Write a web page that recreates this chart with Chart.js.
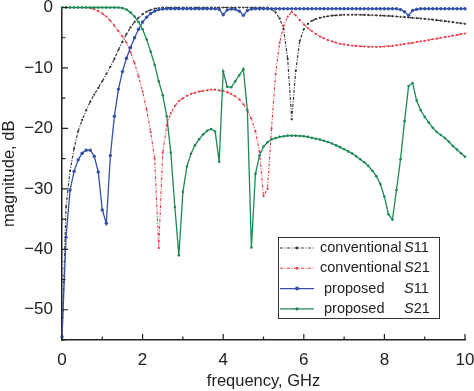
<!DOCTYPE html>
<html>
<head>
<meta charset="utf-8">
<script src="https://cdn.jsdelivr.net/npm/chart.js@4.4.0/dist/chart.umd.min.js"></script>
<style>
  html, body { margin: 0; padding: 0; background: #fff; }
</style>
</head>
<body>
<canvas id="grafico" width="474" height="391"></canvas>
<script>
// frecuencia en GHz, paso de 0.1
const freq = [
  0, 0.1, 0.2, 0.3, 0.4, 0.5, 0.6, 0.7, 0.8, 0.9,
  1, 1.1, 1.2, 1.3, 1.4, 1.5, 1.6, 1.7, 1.8, 1.9,
  2, 2.1, 2.2, 2.3, 2.4, 2.5, 2.6, 2.7, 2.8, 2.9,
  3, 3.1, 3.2, 3.3, 3.4, 3.5, 3.6, 3.7, 3.8, 3.9,
  4, 4.1, 4.2, 4.3, 4.4, 4.5, 4.6, 4.7, 4.8, 4.9,
  5, 5.1, 5.2, 5.3, 5.4, 5.5, 5.6, 5.7, 5.8, 5.9,
  6, 6.1, 6.2, 6.3, 6.4, 6.5, 6.6, 6.7, 6.8, 6.9,
  7, 7.1, 7.2, 7.3, 7.4, 7.5, 7.6, 7.7, 7.8, 7.9,
  8, 8.1, 8.2, 8.3, 8.4, 8.5, 8.6, 8.7, 8.8, 8.9,
  9, 9.1, 9.2, 9.3, 9.4, 9.5, 9.6, 9.7, 9.8, 9.9,
  10
];

// magnitudes en dB
const convS11 = [
  -55, -33, -27, -23.3, -20.5, -18.6, -17, -15.6, -14.4, -13.3,
  -12.2, -11, -9.8, -8.5, -7, -5.7, -4.4, -3.3, -2.4, -1.7,
  -1.1, -0.7, -0.4, -0.2, -0.1, 0, 0, 0, 0, 0,
  0, 0, 0, 0, 0, 0, 0, 0, 0, 0,
  0, 0, 0, 0, 0, 0, 0, 0, 0, 0,
  0, 0, -0.3, -0.8, -1.8, -3.6, -8.5, -18.5, -10.5, -5.5,
  -3.6, -2.7, -2.2, -1.9, -1.7, -1.55, -1.45, -1.35, -1.3, -1.25,
  -1.2, -1.2, -1.2, -1.2, -1.2, -1.22, -1.25, -1.28, -1.3, -1.33,
  -1.36, -1.4, -1.44, -1.49, -1.54, -1.6, -1.65, -1.7, -1.76, -1.82,
  -1.88, -1.95, -2.02, -2.1, -2.18, -2.26, -2.34, -2.43, -2.52, -2.61,
  -2.7
];
const convS21 = [
  0, 0, 0, 0, 0, 0, 0, -0.1, -0.3, -0.6,
  -1, -1.5, -2.2, -3, -3.9, -4.8, -5.8, -7.4, -9.2, -11.4,
  -13.9, -16.9, -20.6, -25, -39.8, -24, -19.5, -17.5, -16.3, -15.5,
  -15, -14.6, -14.3, -14.1, -13.9, -13.8, -13.7, -13.6, -13.6, -13.7,
  -13.8, -14, -14.3, -14.7, -15.2, -16, -17, -18.4, -20.5, -23.8,
  -31.2, -30, -20, -11, -5.8, -3, -1.5, -0.7, -1.3, -2.1,
  -2.8, -3.4, -3.9, -4.4, -4.8, -5.1, -5.4, -5.6, -5.8, -6,
  -6.1, -6.2, -6.3, -6.35, -6.4, -6.45, -6.5, -6.5, -6.5, -6.5,
  -6.45, -6.4, -6.35, -6.25, -6.15, -6.05, -5.95, -5.85, -5.7, -5.6,
  -5.5, -5.4, -5.25, -5.15, -5, -4.9, -4.8, -4.65, -4.55, -4.4,
  -4.3
];
const propS11 = [
  -54.5, -38, -30.2, -27.1, -25.2, -24.1, -23.6, -23.6, -24.6, -27.2,
  -33.5, -35.7, -24.5, -18, -13.5, -10.6, -8.4, -6.6, -5, -3.6,
  -2.4, -1.6, -1, -0.6, -0.35, -0.25, -0.2, -0.2, -0.2, -0.2,
  -0.2, -0.2, -0.2, -0.2, -0.2, -0.2, -0.2, -0.2, -0.2, -0.3,
  -1.2, -0.4, -0.25, -0.3, -0.6, -1.3, -0.5, -0.25, -0.2, -0.2,
  -0.2, -0.2, -0.2, -0.2, -0.2, -0.2, -0.2, -0.2, -0.2, -0.2,
  -0.2, -0.2, -0.2, -0.2, -0.2, -0.2, -0.2, -0.2, -0.2, -0.2,
  -0.2, -0.2, -0.2, -0.2, -0.2, -0.2, -0.2, -0.2, -0.2, -0.2,
  -0.2, -0.2, -0.2, -0.2, -0.35, -0.7, -1.3, -0.5, -0.3, -0.2,
  -0.2, -0.2, -0.2, -0.2, -0.2, -0.2, -0.2, -0.2, -0.2, -0.2,
  -0.2
];
const propS21 = [
  0, 0, 0, 0, 0, 0, 0, 0, 0, 0,
  0, 0, 0, 0, 0, -0.1, -0.35, -0.8, -1.5, -2.4,
  -3.6, -5.3, -7.3, -9.5, -12.2, -14.5, -18, -24, -33, -41,
  -30.5, -26.3, -24.2, -22.8, -21.8, -21, -20.4, -20.1, -20.5, -25.5,
  -10.6, -13.1, -13.2, -12.2, -11.2, -10.2, -17, -39.7, -27.5, -24.5,
  -23, -22.3, -21.8, -21.6, -21.4, -21.3, -21.2, -21.2, -21.2, -21.25,
  -21.3, -21.4, -21.55, -21.7, -21.85, -22.05, -22.25, -22.5, -22.8, -23.1,
  -23.45, -23.8, -24.15, -24.6, -25.1, -25.6, -26.2, -27, -27.9, -29.2,
  -31.3, -34.2, -35.1, -30.2, -25.1, -18.8, -13, -12.5, -15.4, -17,
  -18.1, -19, -19.9, -20.6, -21.1, -21.6, -22.2, -22.9, -23.5, -24.1,
  -24.7
];

const series = [
  { name: 'conventional', sub: '11', data: convS11, color: '#383838', dash: [3, 1.5, 1, 1.5], width: 1.2, radius: 1.1 },
  { name: 'conventional', sub: '21', data: convS21, color: '#e63b47', dash: [3, 1.5, 1, 1.5], width: 1.1, radius: 1.1 },
  { name: 'proposed', sub: '11', data: propS11, color: '#3450a8', dash: [], width: 1.3, radius: 1.7 },
  { name: 'proposed', sub: '21', data: propS21, color: '#1d8a55', dash: [], width: 1.3, radius: 1.3 }
];

const colorEje = '#222';
const fuenteTicks = { family: '"Liberation Sans", Arial, sans-serif', size: 17 };
const fuenteTitulo = { family: '"Liberation Sans", Arial, sans-serif', size: 16.5 };

// ticks hacia adentro (mayores y menores)
const ticksInternos = {
  id: 'ticksInternos',
  afterDraw(chart) {
    const { ctx, chartArea: a, scales: { x, y } } = chart;
    ctx.save();
    ctx.strokeStyle = colorEje;
    ctx.lineWidth = 1.2;
    ctx.beginPath();
    x.ticks.forEach(t => {
      const px = x.getPixelForValue(t.value);
      const largo = t.value % 2 === 0 ? 6 : 3.5;
      ctx.moveTo(px, a.bottom);
      ctx.lineTo(px, a.bottom - largo);
    });
    y.ticks.forEach(t => {
      const py = y.getPixelForValue(t.value);
      const largo = t.value % 10 === 0 ? 6 : 3.5;
      ctx.moveTo(a.left, py);
      ctx.lineTo(a.left + largo, py);
    });
    ctx.stroke();
    ctx.restore();
  }
};

// leyenda propia con la S en cursiva
const leyenda = {
  id: 'leyenda',
  afterDatasetsDraw(chart) {
    const { ctx, chartArea: a } = chart;
    const w = 161, h = 81;
    const left = a.right - 26 - w;
    const top = a.bottom - 22 - h;
    ctx.save();
    ctx.fillStyle = '#fff';
    ctx.fillRect(left, top, w, h);
    ctx.strokeStyle = '#333';
    ctx.lineWidth = 1;
    ctx.strokeRect(left + 0.5, top + 0.5, w, h);
    ctx.textBaseline = 'middle';
    series.forEach((s, i) => {
      const cy = top + 11 + i * 20.3;
      ctx.strokeStyle = s.color;
      ctx.lineWidth = s.width;
      ctx.setLineDash(s.dash);
      ctx.beginPath();
      ctx.moveTo(left + 2, cy);
      ctx.lineTo(left + 36, cy);
      ctx.stroke();
      ctx.setLineDash([]);
      ctx.fillStyle = s.color;
      ctx.beginPath();
      ctx.arc(left + 19, cy, s.radius + 0.3, 0, Math.PI * 2);
      ctx.fill();
      ctx.fillStyle = '#222';
      ctx.font = '14.5px "Liberation Sans", Arial, sans-serif';
      const xNombre = s.name === 'proposed' ? left + 46 : left + 42;
      ctx.fillText(s.name, xNombre, cy);
      ctx.font = 'italic 14.5px "Liberation Sans", Arial, sans-serif';
      ctx.fillText('S', left + 126, cy);
      const ws = ctx.measureText('S').width;
      ctx.font = '14.5px "Liberation Sans", Arial, sans-serif';
      ctx.fillText(s.sub, left + 126 + ws, cy);
    });
    ctx.restore();
  }
};

const ctx = document.getElementById('grafico').getContext('2d');
new Chart(ctx, {
  type: 'line',
  data: {
    datasets: series.map((s, i) => ({
      label: s.name + ' S' + s.sub,
      data: s.data.map((v, k) => ({ x: freq[k], y: v })),
      borderColor: s.color,
      backgroundColor: s.color,
      borderWidth: s.width,
      borderDash: s.dash,
      pointRadius: s.radius,
      pointBorderWidth: 0,
      pointBackgroundColor: s.color,
      tension: 0,
      fill: false,
      clip: 4,
      order: 4 - i
    }))
  },
  options: {
    responsive: false,
    animation: false,
    layout: { padding: 0 },
    plugins: {
      legend: { display: false },
      tooltip: { enabled: false }
    },
    scales: {
      x: {
        type: 'linear',
        min: 0,
        max: 10,
        ticks: {
          stepSize: 1,
          autoSkip: false,
          maxRotation: 0,
          padding: 10,
          color: colorEje,
          font: fuenteTicks,
          callback: v => (v % 2 === 0 ? String(v) : '')
        },
        grid: { display: false, drawTicks: false },
        border: { display: true, color: colorEje, width: 1.5 },
        title: { display: true, text: 'frequency, GHz', color: colorEje, font: fuenteTitulo, padding: { top: 0, bottom: 0 } },
        afterFit(scale) {
          scale.height = 51;
          scale.paddingLeft = 0;
          scale.paddingRight = 9;
        }
      },
      y: {
        min: -55,
        max: 0,
        ticks: {
          stepSize: 5,
          autoSkip: false,
          padding: 9,
          color: colorEje,
          font: fuenteTicks,
          callback: v => (v % 10 === 0 ? (v < 0 ? '\u2212' + Math.abs(v) : String(v)) : '')
        },
        grid: { display: false, drawTicks: false },
        border: { display: true, color: colorEje, width: 1.5 },
        title: { display: true, text: 'magnitude, dB', color: colorEje, font: fuenteTitulo, padding: { top: 0, bottom: 0 } },
        afterFit(scale) {
          scale.width = 62;
          scale.paddingTop = 7.5;
          scale.paddingBottom = 0;
        }
      }
    }
  },
  plugins: [ticksInternos, leyenda]
});
</script>
</body>
</html>
